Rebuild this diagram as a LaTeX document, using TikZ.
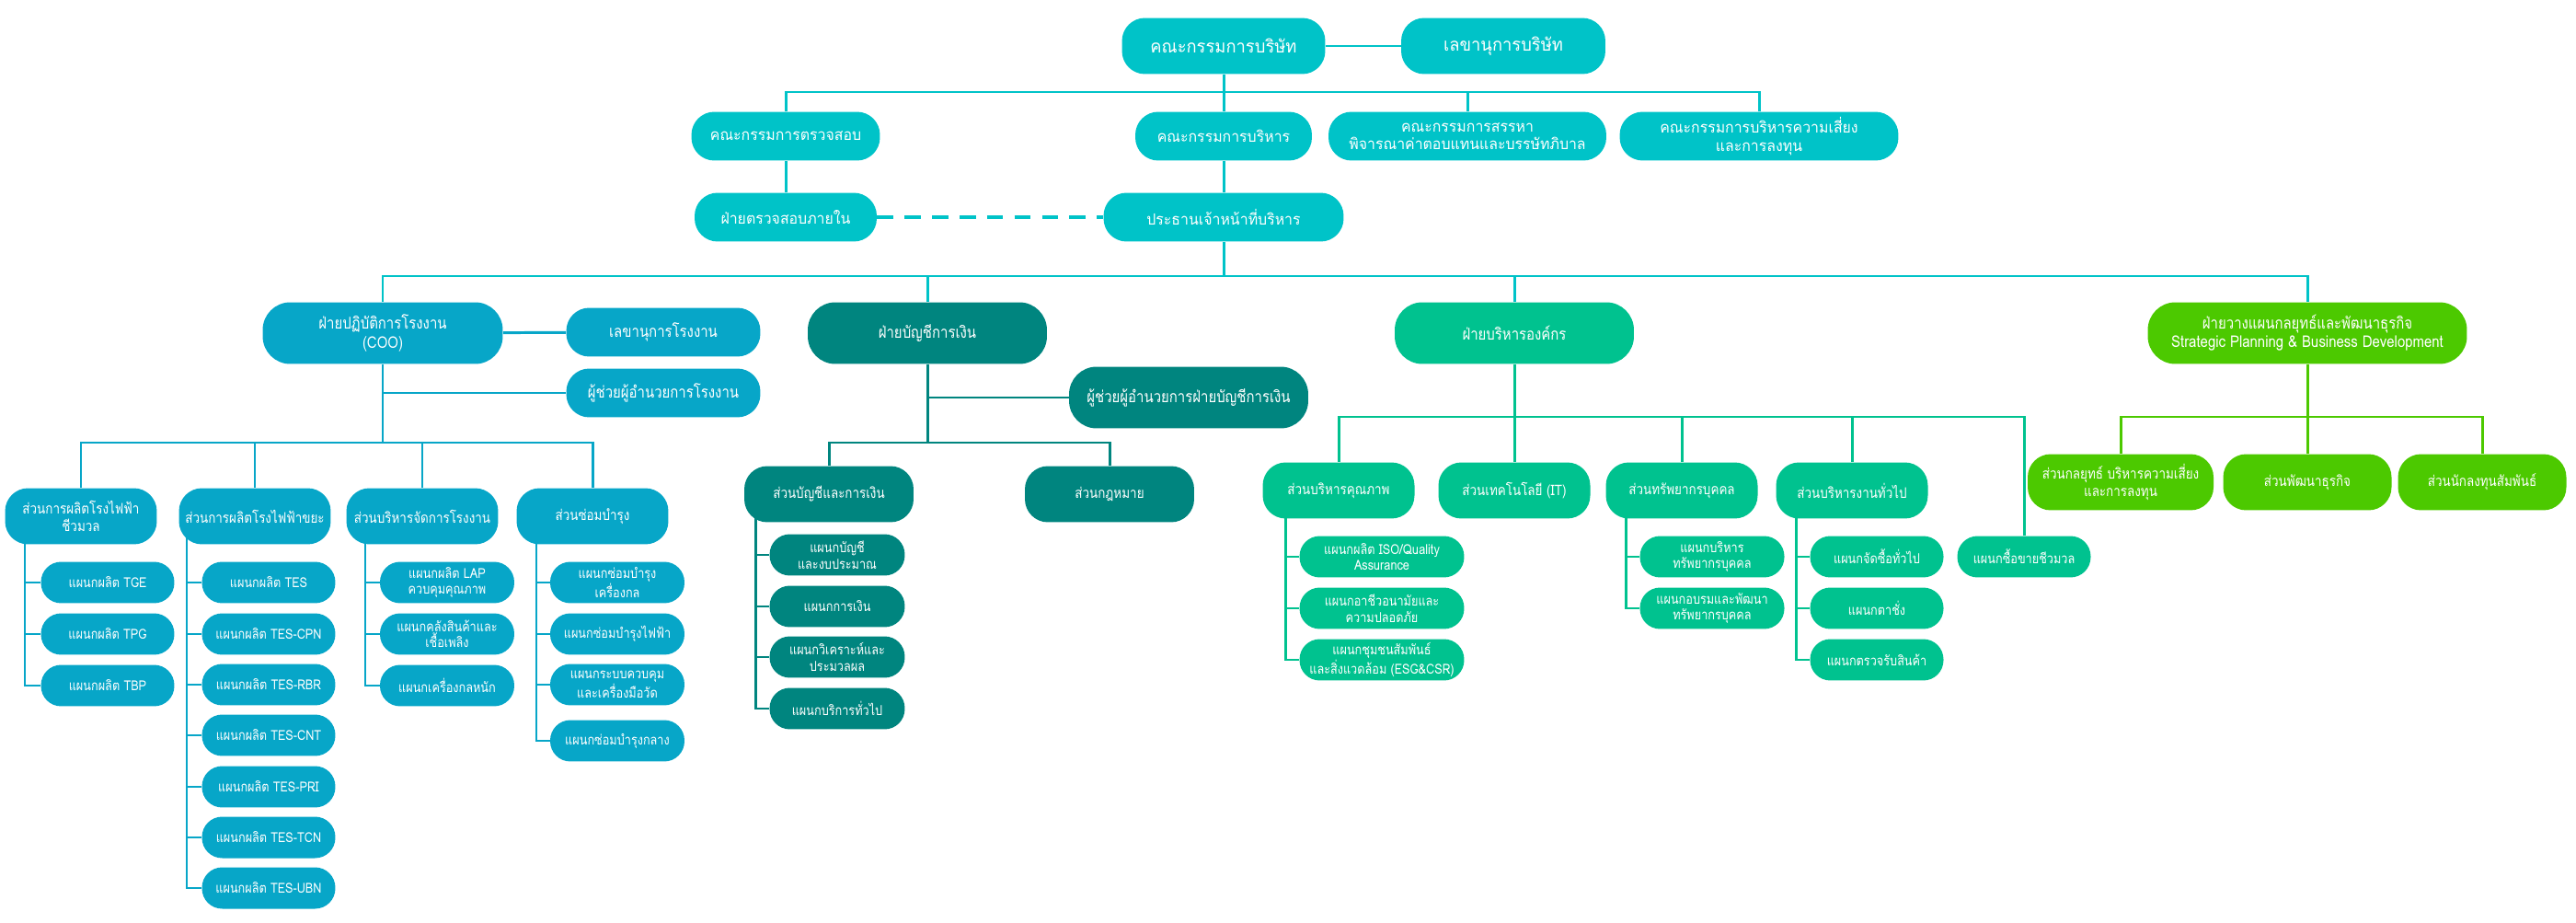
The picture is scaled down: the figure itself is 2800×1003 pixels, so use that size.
\documentclass[tikz,border=0pt]{standalone}
\usepackage{fontspec}
\setmainfont[Script=Thai,FakeStretch=0.95]{Loma}
\newfontfamily\narrowthai[Script=Thai,FakeStretch=0.85]{Loma}
\usepackage{xcolor}
\usetikzlibrary{positioning,backgrounds,calc}

\definecolor{topc}{HTML}{00C3C8}
\definecolor{cooc}{HTML}{07A6C8}
\definecolor{finc}{HTML}{00857F}
\definecolor{orgc}{HTML}{00C28F}
\definecolor{stratc}{HTML}{4CC900}

\begin{document}
\begin{tikzpicture}[
    x=0.02cm, y=-0.02cm,
    box/.style={rounded corners=0.5cm,text=white,align=center,inner sep=0pt,font=\fontsize{9.5}{11}\selectfont},
    bigbox/.style={box,minimum height=1.22cm},
    midbox/.style={box,minimum height=1.06cm},
    headbox/.style={box,rounded corners=0.6cm,minimum height=1.34cm,font=\narrowthai\fontsize{10}{11.5}\selectfont},
    aidbox/.style={midbox,font=\narrowthai\fontsize{10}{11.5}\selectfont},
    secbox/.style={box,minimum height=1.22cm,font=\narrowthai\fontsize{9}{10.5}\selectfont},
    subbox/.style={box,rounded corners=0.44cm,minimum height=0.9cm,font=\narrowthai\fontsize{8.5}{10}\selectfont},
    link/.style={line width=1.7pt},
]
    \useasboundingbox (0,0) rectangle (2800,1003);

    % board level
    \node[bigbox,fill=topc,minimum width=4.42cm,font=\fontsize{11}{13}\selectfont] (board) at (1330,50) {คณะกรรมการบริษัท};
    \node[bigbox,fill=topc,minimum width=4.44cm,font=\fontsize{11}{13}\selectfont] (boardsec) at (1634,50) {เลขานุการบริษัท};
    \node[midbox,fill=topc,minimum width=4.1cm] (audit) at (854,148) {คณะกรรมการตรวจสอบ};
    \node[midbox,fill=topc,minimum width=3.84cm] (exec) at (1330,148) {คณะกรรมการบริหาร};
    \node[midbox,fill=topc,minimum width=6.04cm] (nom) at (1595,148) {คณะกรรมการสรรหา\\พิจารณาค่าตอบแทนและบรรษัทภิบาล};
    \node[midbox,fill=topc,minimum width=6.06cm] (risk) at (1912,148) {คณะกรรมการบริหารความเสี่ยง\\และการลงทุน};
    \node[midbox,fill=topc,minimum width=3.96cm] (intaudit) at (854,236) {ฝ่ายตรวจสอบภายใน};
    \node[midbox,fill=topc,minimum width=5.22cm] (ceo) at (1330,236) {ประธานเจ้าหน้าที่บริหาร};

    % divisions
    \node[headbox,fill=cooc,minimum width=5.22cm] (coo) at (416,362) {ฝ่ายปฏิบัติการโรงงาน\\(COO)};
    \node[aidbox,fill=cooc,minimum width=4.22cm] (coosec) at (721,361) {เลขานุการโรงงาน};
    \node[aidbox,fill=cooc,minimum width=4.22cm] (cooasst) at (721,427) {ผู้ช่วยผู้อำนวยการโรงงาน};
    \node[headbox,fill=finc,minimum width=5.2cm] (fin) at (1008,362) {ฝ่ายบัญชีการเงิน};
    \node[headbox,fill=finc,minimum width=5.2cm] (finasst) at (1292,432) {ผู้ช่วยผู้อำนวยการฝ่ายบัญชีการเงิน};
    \node[headbox,fill=orgc,minimum width=5.2cm] (org) at (1646,362) {ฝ่ายบริหารองค์กร};
    \node[headbox,fill=stratc,minimum width=6.94cm] (strat) at (2508,362) {ฝ่ายวางแผนกลยุทธ์และพัฒนาธุรกิจ\\Strategic Planning \& Business Development};

    % COO sections
    \node[secbox,fill=cooc,minimum width=3.3cm] (cbio) at (88,561) {ส่วนการผลิตโรงไฟฟ้า\\ชีวมวล};
    \node[secbox,fill=cooc,minimum width=3.3cm] (cwaste) at (277,561) {ส่วนการผลิตโรงไฟฟ้าขยะ};
    \node[secbox,fill=cooc,minimum width=3.3cm] (cplant) at (459,561) {ส่วนบริหารจัดการโรงงาน};
    \node[secbox,fill=cooc,minimum width=3.3cm] (cmaint) at (644,561) {ส่วนซ่อมบำรุง};

    \node[subbox,fill=cooc,minimum width=2.9cm] (tge) at (117,633) {แผนกผลิต TGE};
    \node[subbox,fill=cooc,minimum width=2.9cm] (tpg) at (117,689) {แผนกผลิต TPG};
    \node[subbox,fill=cooc,minimum width=2.9cm] (tbp) at (117,745) {แผนกผลิต TBP};

    \node[subbox,fill=cooc,minimum width=2.9cm] (tes) at (292,633) {แผนกผลิต TES};
    \node[subbox,fill=cooc,minimum width=2.9cm] (cpn) at (292,689) {แผนกผลิต TES-CPN};
    \node[subbox,fill=cooc,minimum width=2.9cm] (rbr) at (292,744) {แผนกผลิต TES-RBR};
    \node[subbox,fill=cooc,minimum width=2.9cm] (cnt) at (292,799) {แผนกผลิต TES-CNT};
    \node[subbox,fill=cooc,minimum width=2.9cm] (pri) at (292,855) {แผนกผลิต TES-PRI};
    \node[subbox,fill=cooc,minimum width=2.9cm] (tcn) at (292,910) {แผนกผลิต TES-TCN};
    \node[subbox,fill=cooc,minimum width=2.9cm] (ubn) at (292,965) {แผนกผลิต TES-UBN};

    \node[subbox,fill=cooc,minimum width=2.92cm] (lap) at (486,633) {แผนกผลิต LAP\\ควบคุมคุณภาพ};
    \node[subbox,fill=cooc,minimum width=2.92cm] (store) at (486,689) {แผนกคลังสินค้าและ\\เชื้อเพลิง};
    \node[subbox,fill=cooc,minimum width=2.92cm] (heavy) at (486,745) {แผนกเครื่องกลหนัก};

    \node[subbox,fill=cooc,minimum width=2.92cm] (mmech) at (671,633) {แผนกซ่อมบำรุง\\เครื่องกล};
    \node[subbox,fill=cooc,minimum width=2.92cm] (melec) at (671,689) {แผนกซ่อมบำรุงไฟฟ้า};
    \node[subbox,fill=cooc,minimum width=2.92cm] (mctrl) at (671,744) {แผนกระบบควบคุม\\และเครื่องมือวัด};
    \node[subbox,fill=cooc,minimum width=2.92cm] (mcentral) at (671,805) {แผนกซ่อมบำรุงกลาง};

    % finance sections
    \node[secbox,fill=finc,minimum width=3.68cm] (facc) at (901,537) {ส่วนบัญชีและการเงิน};
    \node[secbox,fill=finc,minimum width=3.68cm] (flegal) at (1206,537) {ส่วนกฎหมาย};
    \node[subbox,fill=finc,minimum width=2.94cm] (fbud) at (910,603) {แผนกบัญชี\\และงบประมาณ};
    \node[subbox,fill=finc,minimum width=2.94cm] (fmoney) at (910,659) {แผนกการเงิน};
    \node[subbox,fill=finc,minimum width=2.94cm] (fana) at (910,714) {แผนกวิเคราะห์และ\\ประมวลผล};
    \node[subbox,fill=finc,minimum width=2.94cm] (fgen) at (910,770) {แผนกบริการทั่วไป};

    % organisation sections
    \node[secbox,fill=orgc,minimum width=3.3cm] (oqual) at (1455,533) {ส่วนบริหารคุณภาพ};
    \node[secbox,fill=orgc,minimum width=3.3cm] (oit) at (1646,533) {ส่วนเทคโนโลยี (IT)};
    \node[secbox,fill=orgc,minimum width=3.3cm] (ohr) at (1828,533) {ส่วนทรัพยากรบุคคล};
    \node[secbox,fill=orgc,minimum width=3.3cm] (ogen) at (2013,533) {ส่วนบริหารงานทั่วไป};
    \node[subbox,fill=orgc,minimum width=3.58cm] (qiso) at (1502,605) {แผนกผลิต ISO/Quality\\Assurance};
    \node[subbox,fill=orgc,minimum width=3.58cm] (qsafe) at (1502,661) {แผนกอาชีวอนามัยและ\\ความปลอดภัย};
    \node[subbox,fill=orgc,minimum width=3.58cm] (qcsr) at (1502,717) {แผนกชุมชนสัมพันธ์\\และสิ่งแวดล้อม (ESG\&CSR)};
    \node[subbox,fill=orgc,minimum width=3.14cm] (hradm) at (1861,605) {แผนกบริหาร\\ทรัพยากรบุคคล};
    \node[subbox,fill=orgc,minimum width=3.14cm] (hrdev) at (1861,661) {แผนกอบรมและพัฒนา\\ทรัพยากรบุคคล};
    \node[subbox,fill=orgc,minimum width=2.9cm] (gbuy) at (2040,605) {แผนกจัดซื้อทั่วไป};
    \node[subbox,fill=orgc,minimum width=2.9cm] (gweigh) at (2040,661) {แผนกตาชั่ง};
    \node[subbox,fill=orgc,minimum width=2.9cm] (ginsp) at (2040,717) {แผนกตรวจรับสินค้า};
    \node[subbox,fill=orgc,minimum width=2.9cm] (obio) at (2200,605) {แผนกซื้อขายชีวมวล};

    % strategy sections
    \node[secbox,fill=stratc,minimum width=4.04cm] (sstrat) at (2305,524) {ส่วนกลยุทธ์ บริหารความเสี่ยง\\และการลงทุน};
    \node[secbox,fill=stratc,minimum width=3.66cm] (sdev) at (2508,524) {ส่วนพัฒนาธุรกิจ};
    \node[secbox,fill=stratc,minimum width=3.66cm] (sir) at (2698,524) {ส่วนนักลงทุนสัมพันธ์};

    % bus lines and trunks
    \coordinate (bus1) at (0,100);
    \coordinate (bus2) at (0,300);
    \coordinate (bus3) at (0,481);
    \coordinate (bus4) at (0,453);
    \coordinate (bioT) at (27,0);
    \coordinate (wasteT) at (203,0);
    \coordinate (plantT) at (397,0);
    \coordinate (maintT) at (583,0);
    \coordinate (accT) at (821,0);
    \coordinate (qualT) at (1397,0);
    \coordinate (hrT) at (1767,0);
    \coordinate (genT) at (1952,0);

    \begin{scope}[on background layer]
    \draw[link,topc] (board) -- (boardsec);
    \draw[link,topc] (board) -- (exec);
    \draw[link,topc] (audit) -- (audit |- bus1) -| (risk);
    \draw[link,topc] (nom) -- (nom |- bus1);
    \draw[link,topc] (audit) -- (intaudit);
    \draw[link,topc] (exec) -- (ceo);
    \draw[topc,line width=2.6pt,dash pattern=on 10pt off 7pt] (intaudit) -- (ceo);
    \draw[link,topc] (coo) -- (coo |- bus2) -| (strat);
    \draw[link,topc] (ceo) -- (ceo |- bus2);
    \draw[link,topc] (fin) -- (fin |- bus2);
    \draw[link,topc] (org) -- (org |- bus2);

    % COO
    \draw[link,cooc] (coo) -- (coosec);
    \draw[link,cooc] (cooasst) -- (cooasst -| coo);
    \draw[link,cooc] (coo) -- (coo |- bus3);
    \draw[link,cooc] (cbio) -- (cbio |- bus3) -| (cmaint);
    \draw[link,cooc] (cwaste) -- (cwaste |- bus3);
    \draw[link,cooc] (cplant) -- (cplant |- bus3);
    \draw[link,cooc] (bioT |- cbio) |- (tbp);
    \draw[link,cooc] (bioT |- tge) -- (tge);
    \draw[link,cooc] (bioT |- tpg) -- (tpg);
    \draw[link,cooc] (wasteT |- cwaste) |- (ubn);
    \foreach \s in {tes,cpn,rbr,cnt,pri,tcn}
        \draw[link,cooc] (wasteT |- \s) -- (\s);
    \draw[link,cooc] (plantT |- cplant) |- (heavy);
    \draw[link,cooc] (plantT |- lap) -- (lap);
    \draw[link,cooc] (plantT |- store) -- (store);
    \draw[link,cooc] (maintT |- cmaint) |- (mcentral);
    \foreach \s in {mmech,melec,mctrl}
        \draw[link,cooc] (maintT |- \s) -- (\s);

    % finance
    \draw[link,finc] (finasst) -- (finasst -| fin);
    \draw[link,finc] (fin) -- (fin |- bus3);
    \draw[link,finc] (facc) -- (facc |- bus3) -| (flegal);
    \draw[link,finc] (accT |- facc) |- (fgen);
    \foreach \s in {fbud,fmoney,fana}
        \draw[link,finc] (accT |- \s) -- (\s);

    % organisation
    \draw[link,orgc] (org) -- (oit);
    \draw[link,orgc] (oqual) -- (oqual |- bus4) -| (obio);
    \draw[link,orgc] (ohr) -- (ohr |- bus4);
    \draw[link,orgc] (ogen) -- (ogen |- bus4);
    \draw[link,orgc] (qualT |- oqual) |- (qcsr);
    \draw[link,orgc] (qualT |- qiso) -- (qiso);
    \draw[link,orgc] (qualT |- qsafe) -- (qsafe);
    \draw[link,orgc] (hrT |- ohr) |- (hrdev);
    \draw[link,orgc] (hrT |- hradm) -- (hradm);
    \draw[link,orgc] (genT |- ogen) |- (ginsp);
    \draw[link,orgc] (genT |- gbuy) -- (gbuy);
    \draw[link,orgc] (genT |- gweigh) -- (gweigh);

    % strategy
    \draw[link,stratc] (strat) -- (sdev);
    \draw[link,stratc] (sstrat) -- (sstrat |- bus4) -| (sir);
    \end{scope}
\end{tikzpicture}
\end{document}
